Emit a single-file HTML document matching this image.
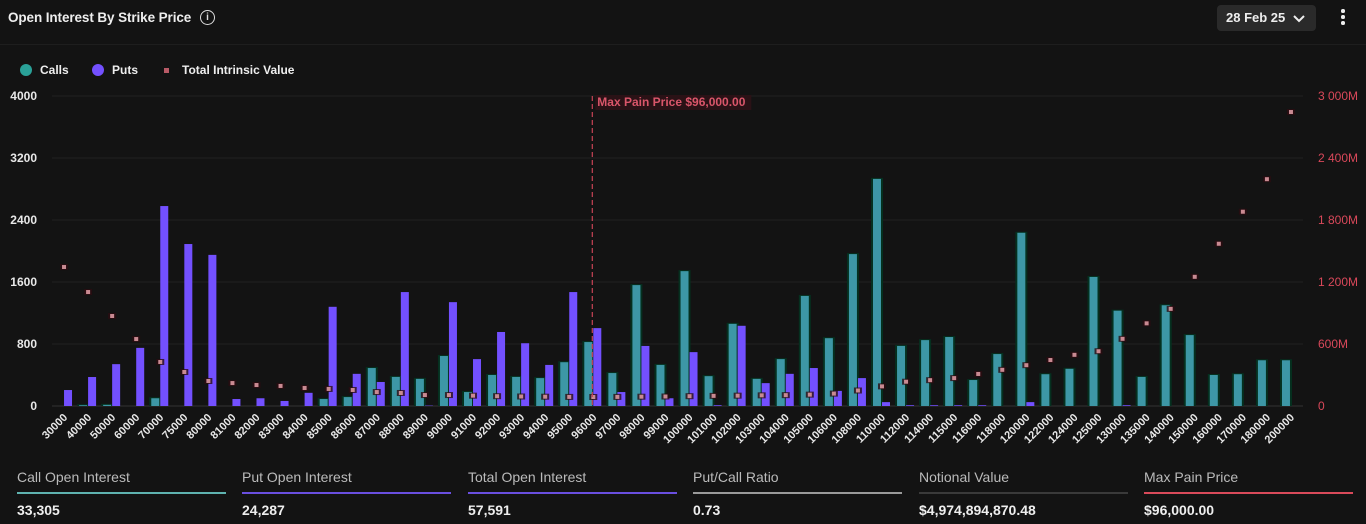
<!DOCTYPE html>
<html><head><meta charset="utf-8">
<style>
html,body{margin:0;padding:0;background:#131313;width:1366px;height:524px;overflow:hidden;font-family:"Liberation Sans",sans-serif;color:#e6e6e6}
.title{position:absolute;left:8px;top:10px;font-size:13.5px;font-weight:bold;color:#eee;letter-spacing:-0.1px}
.info{position:absolute;left:200px;top:10px;width:13px;height:13px;border:1.5px solid #ddd;border-radius:50%;font-size:10px;font-weight:bold;text-align:center;line-height:13px;color:#ddd}
.date{position:absolute;left:1217px;top:5px;width:99px;height:26px;background:#2a2a2a;border-radius:4px;font-size:13px;font-weight:bold;line-height:26px;padding-left:9px;box-sizing:border-box;color:#eee}
.kebab{position:absolute;left:1339px;top:9px;width:8px;height:18px}
.kebab i{display:block;width:3.5px;height:3.5px;background:#eee;border-radius:50%;margin:0 auto 2.5px}
.divider{position:absolute;left:0;top:44px;width:1366px;height:1px;background:#1e1e1e}
.legend{position:absolute;top:63px;font-size:12px;font-weight:bold;color:#eee}
.stat{position:absolute;top:469px;width:209px}
.stat .l{font-size:14px;color:#bbb}
.stat .bar{height:2px;margin-top:7px}
.stat .v{font-size:14px;font-weight:bold;color:#eee;margin-top:8px}
</style></head><body>
<div class="title">Open Interest By Strike Price</div>
<div class="info">i</div>
<div class="date">28 Feb 25 <svg width="12" height="8" style="position:absolute;right:11px;top:10px"><path d="M1 1 L6 6 L11 1" stroke="#eee" stroke-width="2" fill="none"/></svg></div>
<div class="kebab"><i></i><i></i><i></i></div>
<div class="divider"></div>

<div class="legend" style="left:20px"><span style="display:inline-block;width:12px;height:12px;border-radius:50%;background:#2aa198;vertical-align:-2px;margin-right:8px"></span>Calls</div>
<div class="legend" style="left:92px"><span style="display:inline-block;width:12px;height:12px;border-radius:50%;background:#7350ff;vertical-align:-2px;margin-right:8px"></span>Puts</div>
<div class="legend" style="left:164px"><span style="display:inline-block;width:5px;height:5px;background:#b85a66;vertical-align:1px;margin-right:13px"></span>Total Intrinsic Value</div>

<svg id="chart" width="1366" height="460" style="position:absolute;left:0;top:0"></svg>

<div class="stat" style="left:17px"><div class="l">Call Open Interest</div><div class="bar" style="background:#5fb3b0"></div><div class="v">33,305</div></div>
<div class="stat" style="left:242px"><div class="l">Put Open Interest</div><div class="bar" style="background:#6a4fe0"></div><div class="v">24,287</div></div>
<div class="stat" style="left:468px"><div class="l">Total Open Interest</div><div class="bar" style="background:#6a4fe0"></div><div class="v">57,591</div></div>
<div class="stat" style="left:693px"><div class="l">Put/Call Ratio</div><div class="bar" style="background:#9a9a9a"></div><div class="v">0.73</div></div>
<div class="stat" style="left:919px"><div class="l">Notional Value</div><div class="bar" style="background:#3a3a3a"></div><div class="v">$4,974,894,870.48</div></div>
<div class="stat" style="left:1144px"><div class="l">Max Pain Price</div><div class="bar" style="background:#d94a5a"></div><div class="v">$96,000.00</div></div>

<script>
const strikes=[30000,40000,50000,60000,70000,75000,80000,81000,82000,83000,84000,85000,86000,87000,88000,89000,90000,91000,92000,93000,94000,95000,96000,97000,98000,99000,100000,101000,102000,103000,104000,105000,106000,108000,110000,112000,114000,115000,116000,118000,120000,122000,124000,125000,130000,135000,140000,150000,160000,170000,180000,200000];
const calls=[0,10,15,0,100,0,0,0,0,0,0,90,115,490,375,350,645,180,400,375,360,565,825,425,1560,530,1740,385,1060,350,605,1420,875,1960,2930,775,850,890,335,670,2235,410,480,1665,1230,375,1300,915,400,410,590,590];
const puts=[206,374,540,750,2580,2090,1950,90,100,65,170,1280,415,310,1470,5,1340,605,955,810,530,1470,1005,180,775,100,695,10,1035,295,415,490,195,360,50,10,10,10,10,0,50,0,0,0,10,0,0,0,0,0,0,0];
const intrinsic=[1345,1103,871,648,426,329,242,222,203,194,174,165,155,135,126,106,106,100,95,92,90,88,87,88,90,92,95,98,100,103,105,110,120,150,190,235,250,270,310,350,395,445,495,530,650,800,940,1250,1570,1880,2195,2845];
const leftTicks=[0,800,1600,2400,3200,4000];
const rightTicks=["0","600M","1 200M","1 800M","2 400M","3 000M"];
const rightVals=[0,600,1200,1800,2400,3000];
const maxPain=96000;

const NS="http://www.w3.org/2000/svg";
const svg=document.getElementById('chart');
const X0=52,X1=1303,Y0=406,Y1=96;
const bw=(X1-X0)/strikes.length;
const cx=i=>X0+(i+0.5)*bw;
const yL=v=>Y0-(v/4000)*(Y0-Y1);
const yR=v=>Y0-(v/3000)*(Y0-Y1);
function mk(tag,attrs){const e=document.createElementNS(NS,tag);for(const k in attrs)e.setAttribute(k,attrs[k]);svg.appendChild(e);return e;}

leftTicks.forEach((t,i)=>{
  const g=mk('line',{x1:X0,x2:X1,y1:yL(t),y2:yL(t),stroke:t===0?'#333':'#222','stroke-width':1});
  
  
  const tx=mk('text',{x:37,y:yL(t)+4,'text-anchor':'end','font-size':12,'font-weight':'bold',fill:'#e8e8e8','font-family':'Liberation Sans, sans-serif'});
  tx.textContent=t;
  
  
});
rightVals.forEach((v,i)=>{
  const tx=mk('text',{x:1318,y:yR(v)+4,'font-size':12,fill:'#d9485a','font-family':'Liberation Sans, sans-serif'});
  tx.textContent=rightTicks[i];
  
  
});

strikes.forEach((s,i)=>{
  const c=cx(i);
  if(calls[i]>0){
    const h=Y0-yL(calls[i]);
    const g=mk('rect',{x:c-11,y:yL(calls[i])-1,width:12,height:h+1,fill:'#05301f'});
    
    
    const r=mk('rect',{x:c-9,y:yL(calls[i]),width:8,height:h,fill:'#3d97a6'});
    
    
  }
  if(puts[i]>0){
    const r=mk('rect',{x:c,y:yL(puts[i]),width:8,height:Y0-yL(puts[i]),fill:'#7350ff'});
    
    
  }
  const d0=mk('rect',{x:c-4,y:yR(intrinsic[i])-3,width:8,height:6,fill:'#2c0c12',opacity:0.8});
  
  
  const d=mk('rect',{x:c-2,y:yR(intrinsic[i])-2,width:4,height:4,fill:'#c98a92'});
  
  
  const t=mk('text',{x:c+4,y:418,'text-anchor':'end','font-size':11,'font-weight':'bold',fill:'#e8e8e8','font-family':'Liberation Sans, sans-serif',transform:`rotate(-45 ${c+4} 418)`});
  t.textContent=s;
  
  
});

const mi=strikes.indexOf(maxPain);
const mx=cx(mi)-1;
const ml=mk('line',{x1:mx,x2:mx,y1:Y1,y2:Y0,stroke:'#c84356','stroke-width':1.2,'stroke-dasharray':'5,3'});


const mb=mk('rect',{x:mx+3,y:Y1-1,width:156,height:15,fill:'#2a1216'});


const mt=mk('text',{x:mx+5,y:Y1+10,'font-size':12,'font-weight':'bold',fill:'#d9566a','font-family':'Liberation Sans, sans-serif'});
mt.textContent='Max Pain Price $96,000.00';


</script>
</body></html>
